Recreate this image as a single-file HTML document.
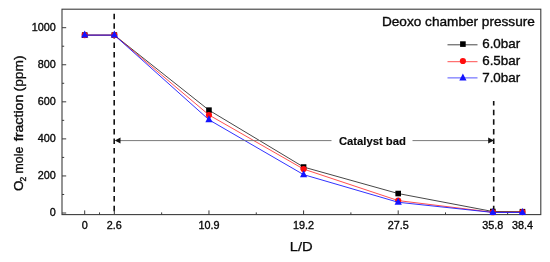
<!DOCTYPE html>
<html><head><meta charset="utf-8"><title>Deoxo chamber pressure</title>
<style>html,body{margin:0;padding:0;background:#fff;}body{width:550px;height:262px;overflow:hidden;}svg{display:block;}text{font-family:"Liberation Sans",Arial,sans-serif;fill:#0a0a0a;stroke:#0a0a0a;stroke-width:0.35px;}</style></head><body>
<svg width="550" height="262" viewBox="0 0 550 262">
<rect width="550" height="262" fill="#fff"/>
<g stroke="#111" stroke-width="1.6" stroke-dasharray="5.5 4.1" fill="none">
<line x1="114.2" y1="13.7" x2="114.2" y2="214.6"/>
<line x1="493.7" y1="13.7" x2="493.7" y2="214.6"/>
</g>
<rect x="62.0" y="9.2" width="478.79999999999995" height="205.4" fill="none" stroke="#3c3c3c" stroke-width="1.1"/>
<g stroke="#3c3c3c" stroke-width="1">
<line x1="62.0" y1="213.00" x2="66.2" y2="213.00"/>
<line x1="62.0" y1="194.47" x2="64.2" y2="194.47"/>
<line x1="62.0" y1="175.94" x2="66.2" y2="175.94"/>
<line x1="62.0" y1="157.41" x2="64.2" y2="157.41"/>
<line x1="62.0" y1="138.88" x2="66.2" y2="138.88"/>
<line x1="62.0" y1="120.35" x2="64.2" y2="120.35"/>
<line x1="62.0" y1="101.82" x2="66.2" y2="101.82"/>
<line x1="62.0" y1="83.29" x2="64.2" y2="83.29"/>
<line x1="62.0" y1="64.76" x2="66.2" y2="64.76"/>
<line x1="62.0" y1="46.23" x2="64.2" y2="46.23"/>
<line x1="62.0" y1="27.70" x2="66.2" y2="27.70"/>
<line x1="84.70" y1="214.6" x2="84.70" y2="210.4"/>
<line x1="114.34" y1="214.6" x2="114.34" y2="210.4"/>
<line x1="99.52" y1="214.6" x2="99.52" y2="212.4"/>
<line x1="208.96" y1="214.6" x2="208.96" y2="210.4"/>
<line x1="161.65" y1="214.6" x2="161.65" y2="212.4"/>
<line x1="303.58" y1="214.6" x2="303.58" y2="210.4"/>
<line x1="256.27" y1="214.6" x2="256.27" y2="212.4"/>
<line x1="398.20" y1="214.6" x2="398.20" y2="210.4"/>
<line x1="350.89" y1="214.6" x2="350.89" y2="212.4"/>
<line x1="492.82" y1="214.6" x2="492.82" y2="210.4"/>
<line x1="445.51" y1="214.6" x2="445.51" y2="212.4"/>
<line x1="522.46" y1="214.6" x2="522.46" y2="210.4"/>
<line x1="507.64" y1="214.6" x2="507.64" y2="212.4"/>
</g>
<g style="stroke-width:0.12px;fill:#1c1c1c;stroke:#1c1c1c">
<text x="55.8" y="216.10" font-size="10.8" text-anchor="end">0</text>
<text x="55.8" y="179.04" font-size="10.8" text-anchor="end">200</text>
<text x="55.8" y="141.98" font-size="10.8" text-anchor="end">400</text>
<text x="55.8" y="104.92" font-size="10.8" text-anchor="end">600</text>
<text x="55.8" y="67.86" font-size="10.8" text-anchor="end">800</text>
<text x="55.8" y="30.80" font-size="10.8" text-anchor="end">1000</text>
<text x="84.70" y="228.9" font-size="10.8" text-anchor="middle">0</text>
<text x="114.34" y="228.9" font-size="10.8" text-anchor="middle">2.6</text>
<text x="208.96" y="228.9" font-size="10.8" text-anchor="middle">10.9</text>
<text x="303.58" y="228.9" font-size="10.8" text-anchor="middle">19.2</text>
<text x="398.20" y="228.9" font-size="10.8" text-anchor="middle">27.5</text>
<text x="492.82" y="228.9" font-size="10.8" text-anchor="middle">35.8</text>
<text x="522.46" y="228.9" font-size="10.8" text-anchor="middle">38.4</text>
</g>
<text x="289.7" y="251.1" font-size="13.3" textLength="23" lengthAdjust="spacingAndGlyphs" style="stroke-width:0.25px">L/D</text>
<g transform="translate(22.9,0) rotate(-90)" font-size="13.4" style="stroke-width:0.1px">
<text x="-191.1" y="0">O</text>
<text x="-181.6" y="2.9" font-size="9.6" textLength="4.8" lengthAdjust="spacingAndGlyphs">2</text>
<text x="-173.4" y="0" textLength="26.7" lengthAdjust="spacingAndGlyphs">mole</text>
<text x="-141.3" y="0" textLength="46.8" lengthAdjust="spacingAndGlyphs">fraction</text>
<text x="-91.4" y="0" textLength="35.9" lengthAdjust="spacingAndGlyphs">(ppm)</text>
</g>
<polyline points="84.70,35.11 114.34,35.11 208.96,110.16 303.58,167.05 398.20,193.54 492.82,211.52 522.46,211.70" fill="none" stroke="#000" stroke-width="1" stroke-opacity="0.72"/>
<rect x="81.90" y="32.31" width="5.6" height="5.6" fill="#000"/>
<rect x="111.54" y="32.31" width="5.6" height="5.6" fill="#000"/>
<rect x="206.16" y="107.36" width="5.6" height="5.6" fill="#000"/>
<rect x="300.78" y="164.25" width="5.6" height="5.6" fill="#000"/>
<rect x="395.40" y="190.74" width="5.6" height="5.6" fill="#000"/>
<rect x="490.02" y="208.72" width="5.6" height="5.6" fill="#000"/>
<rect x="519.66" y="208.90" width="5.6" height="5.6" fill="#000"/>
<polyline points="84.70,35.11 114.34,35.11 208.96,114.98 303.58,169.08 398.20,200.58 492.82,212.26 522.46,212.07" fill="none" stroke="#ff0d0d" stroke-width="1" stroke-opacity="0.72"/>
<circle cx="84.70" cy="35.11" r="3.1" fill="#ff0d0d"/>
<circle cx="114.34" cy="35.11" r="3.1" fill="#ff0d0d"/>
<circle cx="208.96" cy="114.98" r="3.1" fill="#ff0d0d"/>
<circle cx="303.58" cy="169.08" r="3.1" fill="#ff0d0d"/>
<circle cx="398.20" cy="200.58" r="3.1" fill="#ff0d0d"/>
<circle cx="492.82" cy="212.26" r="3.1" fill="#ff0d0d"/>
<circle cx="522.46" cy="212.07" r="3.1" fill="#ff0d0d"/>
<polyline points="84.70,35.11 114.34,35.11 208.96,119.79 303.58,174.64 398.20,202.25 492.82,212.44 522.46,212.44" fill="none" stroke="#1414ff" stroke-width="1" stroke-opacity="0.88"/>
<polygon points="84.70,30.61 81.10,37.61 88.30,37.61" fill="#1414ff"/>
<polygon points="114.34,30.61 110.74,37.61 117.94,37.61" fill="#1414ff"/>
<polygon points="208.96,115.29 205.36,122.29 212.56,122.29" fill="#1414ff"/>
<polygon points="303.58,170.14 299.98,177.14 307.18,177.14" fill="#1414ff"/>
<polygon points="398.20,197.75 394.60,204.75 401.80,204.75" fill="#1414ff"/>
<polygon points="492.82,207.94 489.22,214.94 496.42,214.94" fill="#1414ff"/>
<polygon points="522.46,207.94 518.86,214.94 526.06,214.94" fill="#1414ff"/>
<rect x="378" y="11" width="161" height="90" fill="#fff"/>
<text x="381.9" y="25.8" font-size="12.8" textLength="153" lengthAdjust="spacingAndGlyphs">Deoxo chamber pressure</text>
<line x1="447.5" y1="44.8" x2="477.5" y2="44.8" stroke="#000" stroke-width="1" stroke-opacity="0.72"/>
<rect x="460.10" y="41.30" width="5.6" height="5.6" fill="#000"/>
<text x="482.2" y="48.3" font-size="12.7" textLength="38" lengthAdjust="spacingAndGlyphs">6.0bar</text>
<line x1="447.5" y1="61.7" x2="477.5" y2="61.7" stroke="#ff0d0d" stroke-width="1" stroke-opacity="0.72"/>
<circle cx="462.90" cy="61.00" r="3.1" fill="#ff0d0d"/>
<text x="482.2" y="65.3" font-size="12.7" textLength="38" lengthAdjust="spacingAndGlyphs">6.5bar</text>
<line x1="447.5" y1="77.9" x2="477.5" y2="77.9" stroke="#1414ff" stroke-width="1" stroke-opacity="0.72"/>
<polygon points="462.90,73.40 459.30,80.40 466.50,80.40" fill="#1414ff"/>
<text x="482.2" y="82.1" font-size="12.7" textLength="38" lengthAdjust="spacingAndGlyphs">7.0bar</text>
<g stroke="#6a6a6a" stroke-width="0.9" fill="#111">
<line x1="118" y1="140.6" x2="331.5" y2="140.6"/>
<line x1="412.5" y1="140.6" x2="490" y2="140.6"/>
<polygon points="114.8,140.6 120.5,137.6 120.5,143.6" stroke="none"/>
<polygon points="493.9,140.6 488.2,137.6 488.2,143.6" stroke="none"/>
</g>
<text x="338.9" y="144.7" font-size="11.6" font-weight="bold" style="stroke-width:0.15px" textLength="67" lengthAdjust="spacingAndGlyphs">Catalyst bad</text>
</svg></body></html>
